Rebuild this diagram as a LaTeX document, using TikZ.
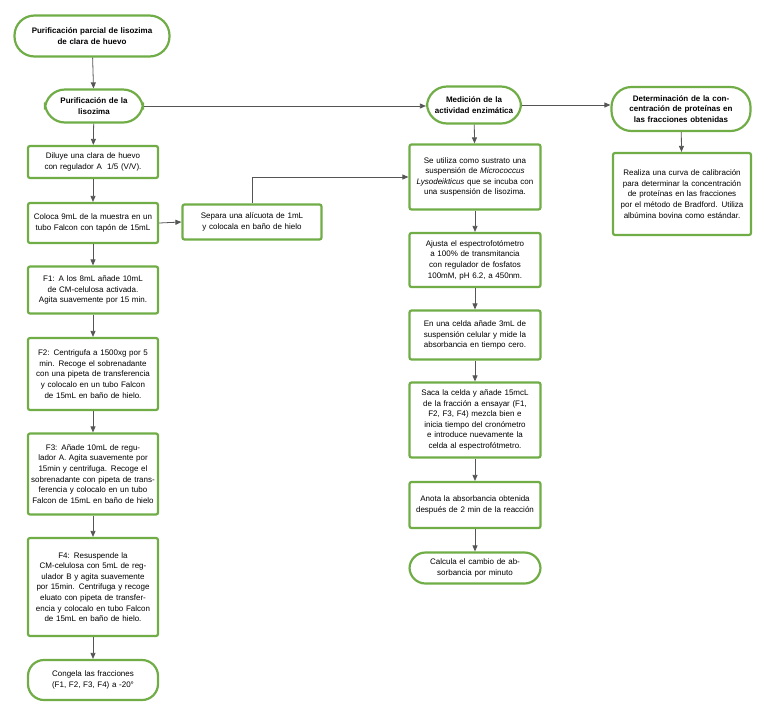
\documentclass[tikz,border=0pt]{standalone}
\usepackage{fontspec}
\setmainfont{Liberation Sans}
\usetikzlibrary{arrows.meta}
\definecolor{gr}{RGB}{112,173,71}
\definecolor{ar}{RGB}{85,85,85}
\begin{document}
\begin{tikzpicture}[x=1pt,y=-1pt,
  base/.style={draw=gr,line width=2.2pt,fill=white,align=center,inner sep=2pt,
    font=\fontsize{8}{10.6}\selectfont},
  box/.style={base,rounded corners=2pt,minimum width=130pt,text width=124pt},
  term/.style={base,rounded corners=20pt,font=\fontsize{8}{10.6}\selectfont\bfseries},
  tproc/.style={base,rounded corners=16pt,minimum width=130pt,text width=118pt},
  arr/.style={draw=ar,line width=0.8pt,-{Triangle[length=6pt,width=5pt]}}]
\useasboundingbox (0,0) rectangle (768,716);
\node[term,minimum width=155pt,minimum height=41pt,text width=145pt] (s) at (92,36) {Purificación parcial de lisozima\\de clara de huevo};
\node[term,minimum width=98pt,minimum height=33pt,text width=90pt] (p) at (94,106) {Purificación de la\\lisozima};
\node[box,minimum height=32pt] (d) at (93,162) {Diluye una clara de huevo\\con regulador A \ 1/5 (V/V).};
\node[box,minimum height=40pt] (c) at (93,223) {Coloca 9mL de la muestra en un tubo Falcon con tapón de 15mL};
\node[box,minimum width=139pt,text width=134pt,minimum height=35pt] (sep) at (252,222) {Separa una alícuota de 1mL y colocala en baño de hielo};
\node[box,minimum height=47pt] (f1) at (93,290) {F1: A los 8mL añade 10mL de CM-celulosa activada. Agita suavemente por 15 min.};
\node[box,minimum height=72pt] (f2) at (93,374) {F2: Centrigufa a 1500xg por 5 min. Recoge el sobrenadante con una pipeta de transferencia y colocalo en un tubo Falcon de 15mL en baño de hielo.};
\node[box,minimum height=81pt] (f3) at (93,474) {F3: Añade 10mL de regulador A. Agita suavemente por 15min y centrifuga. Recoge el sobrenadante con pipeta de transferencia y colocalo en un tubo Falcon de 15mL en baño de hielo};
\node[box,minimum height=98pt] (f4) at (93,587) {F4: Resuspende la\\CM-celulosa con 5mL de regulador B y agita suavemente por 15min. Centrifuga y recoge eluato con pipeta de transferencia y colocalo en tubo Falcon de 15mL en baño de hielo.};
\node[tproc,minimum height=40pt] (g) at (93,680) {Congela las fracciones (F1, F2, F3, F4) a -20°};
\node[term,minimum width=94pt,minimum height=37pt,text width=90pt] (m) at (474,105) {Medición de la\\actividad enzimática};
\node[box,minimum width=131pt,minimum height=65pt] (u) at (475,177) {Se utiliza como sustrato una suspensión de \textit{Micrococcus Lysodeikticus} que se incuba con una suspensión de lisozima.};
\node[box,minimum width=131pt,minimum height=54pt] (aj) at (475,260) {Ajusta el espectrofotómetro a 100\% de transmitancia con regulador de fosfatos 100mM, pH 6.2, a 450nm.};
\node[box,minimum width=131pt,minimum height=49pt] (en) at (475,335) {En una celda añade 3mL de suspensión celular y mide la absorbancia en tiempo cero.};
\node[box,minimum width=131pt,minimum height=75pt] (sa) at (475,420) {Saca la celda y añade 15mcL de la fracción a ensayar (F1, F2, F3, F4) mezcla bien e inicia tiempo del cronómetro e introduce nuevamente la celda al espectrofótmetro.};
\node[box,minimum width=131pt,minimum height=46pt] (an) at (475,505) {Anota la absorbancia obtenida después de 2 min de la reacción};
\node[tproc,minimum width=131pt,minimum height=31pt] (ca) at (475,568) {Calcula el cambio de absorbancia por minuto};
\node[term,minimum width=139pt,minimum height=44pt,text width=135pt] (det) at (681,109) {Determinación de la concentración de proteínas en las fracciones obtenidas};
\node[box,minimum width=138pt,text width=130pt,minimum height=82pt] (r) at (682,194) {Realiza una curva de calibración para determinar la concentración de proteínas en las fracciones por el método de Bradford. Utiliza albúmina bovina como estándar.};
\draw[arr] (s) -- (p);
\draw[arr] (p) -- (d);
\draw[arr] (d) -- (c);
\draw[arr] (c) -- (f1);
\draw[arr] (f1) -- (f2);
\draw[arr] (f2) -- (f3);
\draw[arr] (f3) -- (f4);
\draw[arr] (f4) -- (g);
\draw[arr] (c.east) -- (sep.west);
\draw[arr] (sep.north) |- (u.west);
\draw[arr] (p.east) -- (p.east -| m.west);
\draw[arr] (m.east) -- (m.east -| det.west);
\draw[arr] (m) -- (u);
\draw[arr] (u) -- (aj);
\draw[arr] (aj) -- (en);
\draw[arr] (en) -- (sa);
\draw[arr] (sa) -- (an);
\draw[arr] (an) -- (ca);
\draw[arr] (det) -- (r);
\end{tikzpicture}
\end{document}
